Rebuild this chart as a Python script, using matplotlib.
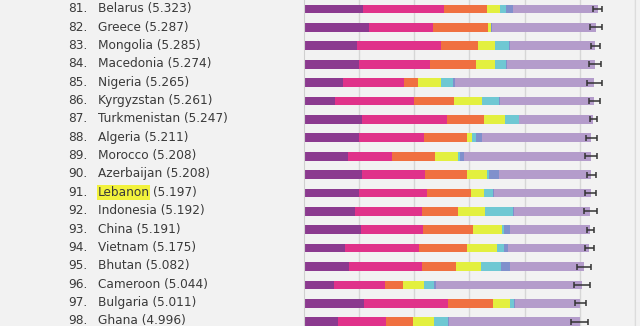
import matplotlib.pyplot as plt
import numpy as np

ranks = [81, 82, 83, 84, 85, 86, 87, 88, 89, 90, 91, 92, 93, 94, 95, 96, 97, 98]
countries = ['Belarus', 'Greece', 'Mongolia', 'Macedonia', 'Nigeria', 'Kyrgyzstan',
             'Turkmenistan', 'Algeria', 'Morocco', 'Azerbaijan', 'Lebanon', 'Indonesia',
             'China', 'Vietnam', 'Bhutan', 'Cameroon', 'Bulgaria', 'Ghana']
scores = [5.323, 5.287, 5.285, 5.274, 5.265, 5.261, 5.247, 5.211, 5.208, 5.208,
          5.197, 5.192, 5.191, 5.175, 5.082, 5.044, 5.011, 4.996]

# explained components
gdp = [1.082, 1.190, 0.961, 0.998, 0.708, 0.564, 1.058, 1.010, 0.811, 1.052,
       1.004, 0.937, 1.040, 0.750, 0.823, 0.558, 1.094, 0.618]
social = [1.459, 1.158, 1.531, 1.289, 1.109, 1.434, 1.537, 1.163, 0.784, 1.151,
          1.223, 1.206, 1.127, 1.345, 1.320, 0.916, 1.519, 0.874]
health = [0.789, 1.000, 0.670, 0.832, 0.248, 0.723, 0.663, 0.778, 0.783, 0.760,
          0.808, 0.657, 0.892, 0.856, 0.609, 0.331, 0.820, 0.488]
freedom = [0.235, 0.050, 0.313, 0.350, 0.428, 0.507, 0.392, 0.090, 0.422, 0.367,
           0.223, 0.494, 0.525, 0.548, 0.458, 0.374, 0.311, 0.380]
generosity = [0.097, 0.000, 0.242, 0.193, 0.216, 0.313, 0.247, 0.078, 0.030, 0.024,
              0.163, 0.506, 0.042, 0.139, 0.368, 0.187, 0.068, 0.247]
corruption = [0.133, 0.020, 0.024, 0.024, 0.031, 0.010, 0.010, 0.109, 0.066, 0.181,
              0.018, 0.012, 0.114, 0.072, 0.162, 0.024, 0.010, 0.024]
# 95% confidence half-widths
ci = [0.084, 0.108, 0.084, 0.108, 0.139, 0.102, 0.060, 0.096, 0.111, 0.078,
      0.096, 0.120, 0.060, 0.084, 0.127, 0.145, 0.096, 0.157]

parts = [gdp, social, health, freedom, generosity, corruption]
dystopia = list(np.array(scores) - np.sum(parts, axis=0))
parts.append(dystopia)
colors = ['#8b3a8f', '#e0328a', '#f07040', '#e3f03f', '#6fc8d3', '#8090cc', '#b49ccb']

bg = '#f2f2f2'
txt = '#3a3a3a'
fs = 8.7

fig = plt.figure(figsize=(6.4, 3.26), dpi=100, facecolor=bg)
ax = fig.add_axes([303.5 / 640, 0, (635 - 303.5) / 640, 1])
ax.set_facecolor(bg)

y = np.arange(len(countries))
left = np.zeros(len(countries))
for vals, c in zip(parts, colors):
    ax.barh(y, vals, left=left, height=0.47, color=c, linewidth=0, zorder=2)
    left += np.array(vals)

ax.errorbar(scores, y, xerr=ci, fmt='none', ecolor='#333333', elinewidth=1.1,
            capsize=2.5, capthick=1.1, zorder=3)

ax.set_xlim(0, 6)
ax.set_ylim(17.23, -0.489)
ax.set_xticks([1, 2, 3, 4, 5, 6])
ax.grid(axis='x', color='#d6d6d6', linewidth=1, zorder=0)
ax.tick_params(left=False, bottom=False, labelleft=False, labelbottom=False)
for s in ['top', 'bottom']:
    ax.spines[s].set_visible(False)
ax.spines['left'].set_color('#cfcfcf')
ax.spines['right'].set_color('#dcdcdc')

# rank and country labels on the left
fig.canvas.draw()
for i, (r, name, sc) in enumerate(zip(ranks, countries, scores)):
    ypx = 1 - (12.3 + 18.35 * i) / 326
    fig.text(68 / 640, ypx, f'{r}.', ha='left', va='baseline', fontsize=fs,
             color=txt)
    if name == 'Lebanon':
        t = fig.text(97.5 / 640, ypx, name, ha='left', va='baseline', fontsize=fs,
                     color=txt,
                     bbox=dict(boxstyle='square,pad=0.08', facecolor='#f2f23c',
                               edgecolor='none'))
        bb = t.get_window_extent(renderer=fig.canvas.get_renderer())
        fig.text((bb.x1 + 3.5) / 640, ypx, f'({sc:.3f})', ha='left', va='baseline',
                 fontsize=fs, color=txt)
    else:
        fig.text(97.5 / 640, ypx, f'{name} ({sc:.3f})', ha='left', va='baseline',
                 fontsize=fs, color=txt)

fig.savefig('out.png', dpi=100, facecolor=bg)
